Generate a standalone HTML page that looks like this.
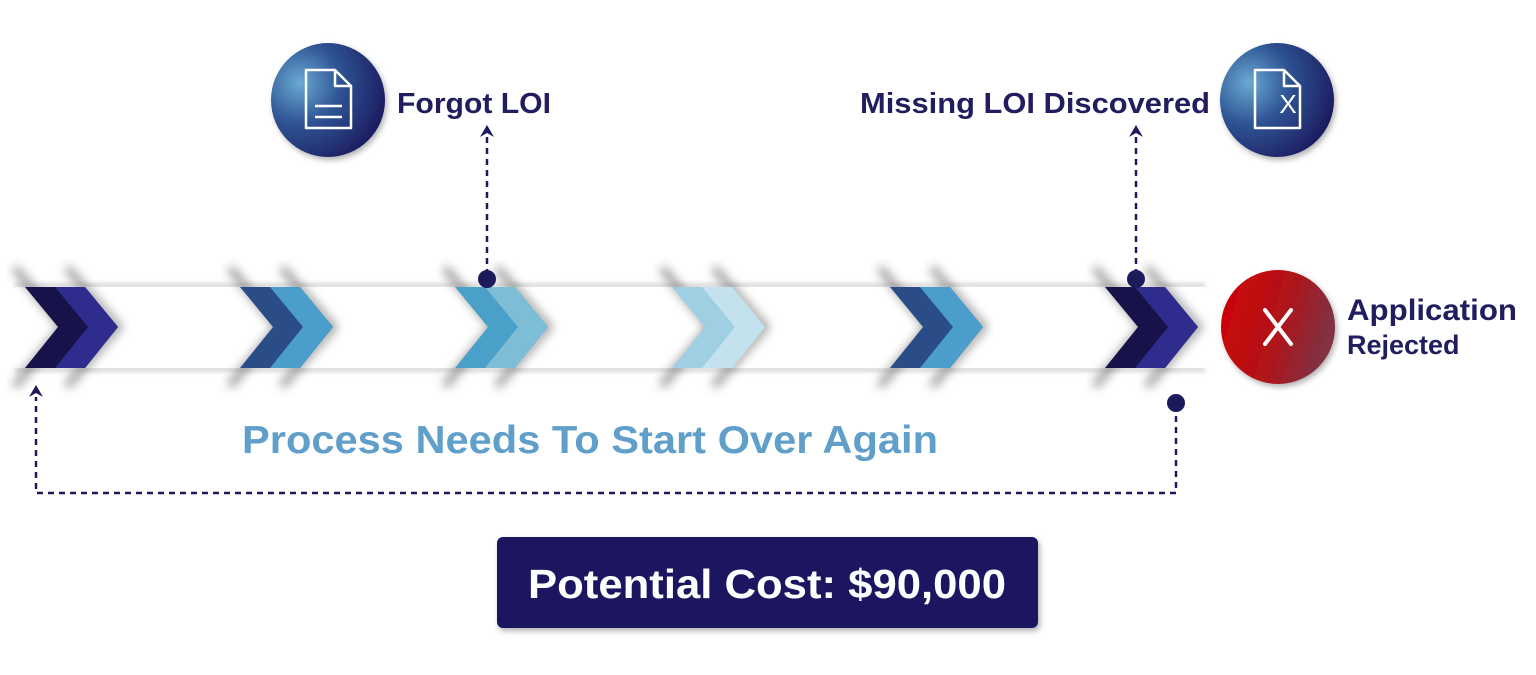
<!DOCTYPE html>
<html><head><meta charset="utf-8"><style>
html,body{margin:0;padding:0;background:#fff;width:1536px;height:675px;overflow:hidden}
svg{display:block}
text{font-family:"Liberation Sans",sans-serif;font-weight:bold}
</style></head><body>
<svg width="1536" height="675" viewBox="0 0 1536 675" xmlns="http://www.w3.org/2000/svg">
<defs>
<filter id="bl" x="-50%" y="-50%" width="200%" height="200%"><feGaussianBlur stdDeviation="5"/></filter>
<filter id="bl2" x="-10%" y="-200%" width="120%" height="500%"><feGaussianBlur stdDeviation="2"/></filter>
<filter id="ds" x="-20%" y="-20%" width="140%" height="140%"><feDropShadow dx="2" dy="3" stdDeviation="3" flood-color="#000" flood-opacity="0.3"/></filter>
<radialGradient id="gb" cx="0.25" cy="0.35" r="0.8"><stop offset="0" stop-color="#6aa9d3"/><stop offset="0.45" stop-color="#2e5494"/><stop offset="1" stop-color="#1c1a5e"/></radialGradient>
<linearGradient id="gr" x1="0" y1="0" x2="1" y2="0.3"><stop offset="0" stop-color="#d20000"/><stop offset="0.6" stop-color="#b0141a"/><stop offset="1" stop-color="#823040"/></linearGradient>
</defs>
<rect x="15" y="283" width="1190" height="5" fill="#d8d8d8" filter="url(#bl2)"/>
<rect x="15" y="367" width="1190" height="5" fill="#d8d8d8" filter="url(#bl2)"/>
<rect x="15" y="287" width="1190" height="81" fill="#fff"/>
<g>
<g filter="url(#bl)" stroke="#555" stroke-width="7" fill="none" opacity="0.65">
<path d="M15 268 L63 327 L15 386 M67 268 L118 327 L67 386"/>
<path d="M230 268 L278 327 L230 386 M282 268 L333 327 L282 386"/>
<path d="M445 268 L493 327 L445 386 M497 268 L548 327 L497 386"/>
<path d="M662 268 L710 327 L662 386 M714 268 L765 327 L714 386"/>
<path d="M880 268 L928 327 L880 386 M932 268 L983 327 L932 386"/>
<path d="M1095 268 L1143 327 L1095 386 M1147 268 L1198 327 L1147 386"/>
</g>
<polygon points="25,287 85,287 118,327 85,368 25,368 58,327" fill="#17124a"/>
<polygon points="55,287 85,287 118,327 85,368 55,368 88,327" fill="#2e2c8c"/>
<polygon points="240,287 300,287 333,327 300,368 240,368 273,327" fill="#2a4d88"/>
<polygon points="270,287 300,287 333,327 300,368 270,368 303,327" fill="#4b9ecb"/>
<polygon points="455,287 515,287 548,327 515,368 455,368 488,327" fill="#4aa0c8"/>
<polygon points="485,287 515,287 548,327 515,368 485,368 518,327" fill="#7dbdd6"/>
<polygon points="672,287 732,287 765,327 732,368 672,368 705,327" fill="#9fcfe2"/>
<polygon points="702,287 732,287 765,327 732,368 702,368 735,327" fill="#c3e2ee"/>
<polygon points="890,287 950,287 983,327 950,368 890,368 923,327" fill="#2a4d88"/>
<polygon points="920,287 950,287 983,327 950,368 920,368 953,327" fill="#4b9ecb"/>
<polygon points="1105,287 1165,287 1198,327 1165,368 1105,368 1138,327" fill="#17124a"/>
<polygon points="1135,287 1165,287 1198,327 1165,368 1135,368 1168,327" fill="#2e2c8c"/>
</g>

<circle cx="328" cy="100" r="57" fill="url(#gb)" filter="url(#ds)"/>
<g stroke="#fff" stroke-width="2.5" fill="none" stroke-linejoin="round">
<path d="M306 70 L335 70 L351 86 L351 128 L306 128 Z M335 70 L335 86 L351 86"/>
<path d="M315 106 L342 106 M315 117 L342 117"/>
</g>
<circle cx="1277" cy="100" r="57" fill="url(#gb)" filter="url(#ds)"/>
<g stroke="#fff" stroke-width="2.5" fill="none" stroke-linejoin="round">
<path d="M1255 70 L1284 70 L1300 86 L1300 128 L1255 128 Z M1284 70 L1284 86 L1300 86"/>
</g>
<text x="1288" y="113" font-size="26" fill="#fff" text-anchor="middle" style="font-weight:normal">X</text>
<circle cx="1278" cy="327" r="57" fill="url(#gr)" filter="url(#ds)"/>
<path d="M1265 310 L1291 344 M1291 310 L1265 344" stroke="#fff" stroke-width="4" stroke-linecap="round"/>

<text x="397" y="113" font-size="29" fill="#221d5e" textLength="154" lengthAdjust="spacingAndGlyphs">Forgot LOI</text>
<text x="860" y="113" font-size="29" fill="#221d5e" textLength="350" lengthAdjust="spacingAndGlyphs">Missing LOI Discovered</text>
<text x="1347" y="320" font-size="30" fill="#221d5e" textLength="170" lengthAdjust="spacingAndGlyphs">Application</text>
<text x="1347" y="354" font-size="27" fill="#221d5e">Rejected</text>
<text x="242" y="453" font-size="39" fill="#5f9fca" textLength="696" lengthAdjust="spacingAndGlyphs">Process Needs To Start Over Again</text>

<g stroke="#1d1a5c" stroke-width="2.5" stroke-dasharray="6,5" fill="none">
<path d="M487 137 L487 275"/>
<path d="M1136 137 L1136 275"/>
<path d="M1176 405 L1176 493 L36 493 L36 397"/>
</g>
<g fill="#1d1a5c">
<circle cx="487" cy="279" r="9"/>
<circle cx="1136" cy="279" r="9"/>
<circle cx="1176" cy="403" r="9"/>
<path d="M480 137 L487 125 L494 137 L487 133 Z"/>
<path d="M1129 137 L1136 125 L1143 137 L1136 133 Z"/>
<path d="M29 397 L36 385 L43 397 L36 393 Z"/>
</g>

<rect x="497" y="537" width="541" height="91" rx="6" fill="#1d1860" filter="url(#ds)"/>
<text x="528" y="598" font-size="41" fill="#fff" textLength="478" lengthAdjust="spacingAndGlyphs">Potential Cost: $90,000</text>
</svg>
</body></html>
